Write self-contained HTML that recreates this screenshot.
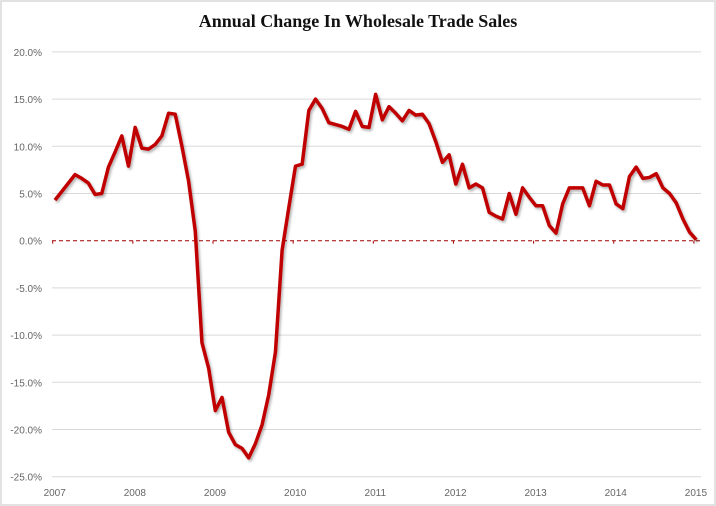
<!DOCTYPE html>
<html><head><meta charset="utf-8"><style>
body{margin:0;background:#fff;}
svg{display:block;font-family:"Liberation Sans",sans-serif;}
</style></head><body>
<svg id="chart" width="716" height="506">
<defs><filter id="sh" x="-5%" y="-5%" width="110%" height="110%"><feDropShadow dx="1.5" dy="2" stdDeviation="1.2" flood-color="#000" flood-opacity="0.3"/></filter></defs>
<rect x="1" y="1" width="714" height="504" fill="#fff" stroke="#d8d8d8" stroke-width="1.5"/>
<text x="358" y="27" text-anchor="middle" font-family="Liberation Serif,serif" font-weight="bold" font-size="18" fill="#111">Annual Change In Wholesale Trade Sales</text>
<g id="grid"></g><g id="yl"></g><g id="xl"></g><g id="ser"></g>
</svg>
<script>
const yTicks=[20,15,10,5,0,-5,-10,-15,-20,-25];
const yTickLabels=["20.0%","15.0%","10.0%","5.0%","0.0%","-5.0%","-10.0%","-15.0%","-20.0%","-25.0%"];
const years=[2007,2008,2009,2010,2011,2012,2013,2014,2015];
const values=[4.3,5.2,6.1,7.0,6.6,6.1,4.9,5.0,7.8,9.4,11.1,7.9,12.0,9.8,9.7,10.2,11.1,13.5,13.4,10.0,6.3,1.0,-10.8,-13.5,-18,-16.6,-20.3,-21.6,-22.0,-23.0,-21.5,-19.5,-16.3,-11.8,-1.0,3.5,7.9,8.1,13.8,15,14,12.5,12.3,12.1,11.8,13.7,12.1,12.0,15.5,12.8,14.2,13.5,12.7,13.8,13.3,13.4,12.4,10.5,8.3,9.1,6.0,8.1,5.6,6.0,5.6,3.0,2.6,2.3,5.0,2.8,5.6,4.6,3.7,3.7,1.6,0.8,3.9,5.6,5.6,5.6,3.7,6.3,5.9,5.9,3.9,3.4,6.8,7.8,6.6,6.7,7.1,5.6,5.0,4.0,2.3,0.9,0.1];
const NS="http://www.w3.org/2000/svg";
const y=v=>240.7-(v*9.44);
const xYear=yr=>52.7+(yr-2007)*80.15;
const xIdx=i=>55+i*6.68;
function mk(t,a,p){const e=document.createElementNS(NS,t);for(const k in a)e.setAttribute(k,a[k]);p.appendChild(e);return e;}
const g=document.getElementById('grid'),yl=document.getElementById('yl'),xl=document.getElementById('xl'),s=document.getElementById('ser');
yTicks.forEach((v,i)=>{
 if(v!==0){const l=mk('line',{x1:52,x2:701,y1:y(v),y2:y(v),stroke:'#d9d9d9','stroke-width':1},g);
 
 }
 const t=mk('text',{x:42,y:y(v)+4,'text-anchor':'end','font-size':10,fill:'#666'},yl);t.textContent=yTickLabels[i];
 
 
});
const z=mk('line',{x1:52,x2:701,y1:y(0),y2:y(0),stroke:'#a00000','stroke-width':1,'stroke-dasharray':'4,3'},g);


years.forEach(yr=>{
 const tk=mk('line',{x1:xYear(yr),x2:xYear(yr),y1:y(0),y2:y(0)+3,stroke:'#a00000'},g);
 
 
 const t=mk('text',{x:xYear(yr)+2,y:496,'text-anchor':'middle','font-size':10,fill:'#666'},xl);t.textContent=yr;
 
 
});
const p=mk('polyline',{points:values.map((v,i)=>xIdx(i)+','+y(v)).join(' '),fill:'none',stroke:'#c00000','stroke-width':3.5,'stroke-linejoin':'round',filter:'url(#sh)'},s);


</script>
</body></html>
